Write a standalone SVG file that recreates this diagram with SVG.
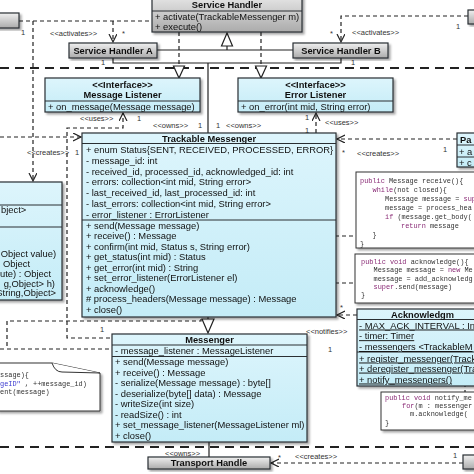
<svg xmlns="http://www.w3.org/2000/svg" width="474" height="474" viewBox="0 0 474 474">
<defs>
<linearGradient id="gray" x1="0" y1="0" x2="0" y2="1"><stop offset="0" stop-color="#f0f0f0"/><stop offset="1" stop-color="#ababab"/></linearGradient>
<linearGradient id="cyan" x1="0" y1="0" x2="0" y2="1"><stop offset="0" stop-color="#ddf5fc"/><stop offset="1" stop-color="#c4ecf7"/></linearGradient>
<filter id="sh" x="-10%" y="-10%" width="130%" height="130%"><feDropShadow dx="2" dy="2" stdDeviation="1" flood-color="#000" flood-opacity="0.35"/></filter>
<marker id="open" markerUnits="userSpaceOnUse" markerWidth="10" markerHeight="9" refX="8" refY="4" orient="auto"><path d="M0,0 L8,4 L0,8" fill="none" stroke="#222" stroke-width="1.2"/></marker>
<style>
.box{stroke:#2a2f33;stroke-width:1.2}
.g{fill:url(#gray)}
.c{fill:url(#cyan)}
.note{fill:#fff;stroke:#333;stroke-width:1}
.sep{stroke:#2a2f33;stroke-width:1}
text{font-family:"Liberation Sans",Arial,sans-serif;fill:#111}
.t{font-size:9.4px}
.b{font-size:9.3px;font-weight:bold}
.l{font-size:7.5px;fill:#333}
.m{font-family:"Liberation Mono","DejaVu Sans Mono",monospace;font-size:6.9px;fill:#333}
.kw{fill:#8a2b76}
.str{fill:#3b3ad0}
.u{text-decoration:underline}
.d{fill:none;stroke:#222;stroke-width:1.2;stroke-dasharray:4 3}
.s{fill:none;stroke:#222;stroke-width:1.2}
.thick{fill:none;stroke:#222;stroke-width:2;stroke-dasharray:9 6}
.ball{fill:#fff;stroke:#222;stroke-width:1}
.tri{fill:#fff;stroke:#222;stroke-width:1.2}
</style>
</defs>
<rect width="474" height="474" fill="#fff"/>

<g id="connectors">
<line class="thick" x1="0" y1="68" x2="474" y2="68"/>
<line class="thick" x1="0" y1="447" x2="474" y2="447"/>
<path class="d" d="M19,21 H152"/>
<path class="d" d="M113,21 V42" marker-end="url(#open)"/>
<path class="d" d="M33,21 V181" marker-end="url(#open)"/>
<path class="d" d="M468,16 H341 V42" marker-end="url(#open)"/>
<path class="s" d="M157,50 H293"/>
<path class="s" d="M227,50 V46"/>
<path class="tri" d="M227,33 L232.5,46 L221.5,46 Z"/>
<path class="s" d="M113,58 V63 H341 V58"/>
<path class="s" d="M208,63 V133"/>
<path class="d" d="M179,32 V66"/>
<path class="tri" d="M173.5,66 L184.5,66 L179,78 Z"/>
<path class="d" d="M261,32 V66"/>
<path class="tri" d="M255.5,66 L266.5,66 L261,78 Z"/>
<path class="d" d="M110,338 H67 V128 H123 V113" marker-end="url(#open)"/>
<path class="d" d="M316,133 V113" marker-end="url(#open)"/>
<path class="d" d="M0,137 H81" marker-end="url(#open)"/>
<path class="d" d="M457,139 H337" marker-end="url(#open)"/>
<path class="d" d="M357,315 H337" marker-end="url(#open)"/>
<path class="d" d="M201,228 V321 H7 V349"/>
<path class="d" d="M0,349 H112"/>
<path class="d" d="M300,236 H356"/>
<path class="d" d="M232,299 H293 V283 H355"/>
<path class="d" d="M465,383 V392"/>
<path class="s" d="M208,317 V319"/>
<path class="tri" d="M202,319 L214,319 L208,333 Z"/>
<path class="s" d="M209,442 V457"/>
<path class="d" d="M463,463 H271" marker-end="url(#open)"/>

<g id="labels">
<text class="l" x="50" y="36">&lt;&lt;activates&gt;&gt;</text>
<text class="l" x="21" y="35">1</text>
<text class="l" x="122" y="36">*</text>
<text class="l" x="352" y="35">&lt;&lt;activates&gt;&gt;</text>
<text class="l" x="456" y="29">1</text>
<text class="l" x="330" y="36">*</text>
<text class="l" x="101" y="65">1</text>
<text class="l" x="351" y="65">1</text>
<text class="l" x="80" y="120.5">&lt;&lt;uses&gt;&gt;</text>
<text class="l" x="137" y="121">1</text>
<text class="l" x="153" y="127.5">&lt;&lt;owns&gt;&gt;</text>
<text class="l" x="198" y="128">1</text>
<text class="l" x="216" y="128">1</text>
<text class="l" x="226" y="127.5">&lt;&lt;owns&gt;&gt;</text>
<text class="l" x="305" y="120">1</text>
<text class="l" x="305" y="133">1</text>
<text class="l" x="325" y="124.5">&lt;&lt;uses&gt;&gt;</text>
<text class="l" x="27" y="154.5">&lt;&lt;creates&gt;&gt;</text>
<text class="l" x="75" y="155">1</text>
<text class="l" x="443" y="152">1</text>
<text class="l" x="342" y="155">*</text>
<text class="l" x="357" y="155.5">&lt;&lt;creates&gt;&gt;</text>
<text class="l" x="340" y="310">*</text>
<text class="l" x="306" y="334">&lt;&lt;notifies&gt;&gt;</text>
<text class="l" x="328" y="352">1</text>
<text class="l" x="100" y="332">1</text>
<text class="l" x="165" y="455.5">&lt;&lt;owns&gt;&gt;</text>
<text class="l" x="278" y="460">*</text>
<text class="l" x="295" y="458.5">&lt;&lt;creates&gt;&gt;</text>
<text class="l" x="453" y="458">1</text>
</g>
<circle class="ball" cx="201" cy="225" r="2.5"/>
<circle class="ball" cx="297" cy="236" r="2.5"/>
<circle class="ball" cx="229" cy="299" r="2.5"/>
<circle class="ball" cx="465" cy="380" r="2.5"/>
</g>

<g id="service-handler" filter="url(#sh)">
<rect class="box g" x="152" y="-10" width="150" height="42"/>
<line class="sep" x1="152" y1="11" x2="302" y2="11"/>
<text class="b" x="227" y="8.3" text-anchor="middle">Service Handler</text>
<text class="t" x="155" y="19.8">+ activate(TrackableMessenger m)</text>
<text class="t" x="155" y="29.8">+ execute()</text>
</g>

<g id="left-top-box" filter="url(#sh)">
<rect class="box g" x="-5" y="13" width="24" height="15"/>
</g>
<g id="right-top-box" filter="url(#sh)">
<rect class="box g" x="468" y="10" width="14" height="14"/>
</g>

<g id="service-handler-a" filter="url(#sh)">
<rect class="box g" x="69" y="43" width="88" height="15"/>
<text class="b" x="113" y="53.8" text-anchor="middle">Service Handler A</text>
</g>
<g id="service-handler-b" filter="url(#sh)">
<rect class="box g" x="293" y="43" width="95" height="15"/>
<text class="b" x="341" y="53.8" text-anchor="middle">Service Handler B</text>
</g>

<g id="message-listener" filter="url(#sh)">
<rect class="box c" x="45" y="78" width="155" height="34"/>
<line class="sep" x1="45" y1="101" x2="200" y2="101"/>
<text class="b" x="122.5" y="88.3" text-anchor="middle">&lt;&lt;Interface&gt;&gt;</text>
<text class="b" x="122.5" y="98.3" text-anchor="middle">Message Listener</text>
<text class="t" x="48" y="109.8">+ on_message(Message message)</text>
</g>

<g id="error-listener" filter="url(#sh)">
<rect class="box c" x="238" y="78" width="155" height="34"/>
<line class="sep" x1="238" y1="101" x2="393" y2="101"/>
<text class="b" x="315.5" y="88.3" text-anchor="middle">&lt;&lt;Interface&gt;&gt;</text>
<text class="b" x="315.5" y="98.3" text-anchor="middle">Error Listener</text>
<text class="t" x="241" y="109.8">+ on_error(int mid, String error)</text>
</g>

<g id="left-class" filter="url(#sh)">
<rect class="box c" x="-5" y="182" width="67" height="118"/>
<line class="sep" x1="-5" y1="205" x2="62" y2="205"/>
<line class="sep" x1="-5" y1="227" x2="62" y2="227"/>
<text class="t" x="1" y="213.3">bject&gt;</text>
<text class="t" x="56" y="257.3" text-anchor="end">Object value)</text>
<text class="t" x="30" y="267.3" text-anchor="end">Object</text>
<text class="t" x="51" y="277.3" text-anchor="end">ute) : Object</text>
<text class="t" x="55" y="286.8" text-anchor="end">g,Object&gt; h)</text>
<text class="t" x="56" y="296.3" text-anchor="end">String,Object&gt;</text>
</g>

<g id="trackable-messenger" filter="url(#sh)">
<rect class="box c" x="82" y="133" width="254" height="184"/>
<line class="sep" x1="82" y1="143.5" x2="336" y2="143.5"/>
<line class="sep" x1="82" y1="220" x2="336" y2="220"/>
<text class="b" x="209" y="141.5" text-anchor="middle">Trackable Messenger</text>
<text class="t" x="86" y="153.3">+ enum Status{SENT, RECEIVED, PROCESSED, ERROR}</text>
<text class="t" x="86" y="164">- message_id: int</text>
<text class="t" x="86" y="174.7">- received_id, processed_id, acknowledged_id: int</text>
<text class="t" x="86" y="185.4">- errors: collection&lt;int mid, String error&gt;</text>
<text class="t" x="86" y="196.1">- last_received_id, last_processed_id: int</text>
<text class="t" x="86" y="206.8">- last_errors: collection&lt;int mid, String error&gt;</text>
<text class="t" x="86" y="217.5">- error_listener : ErrorListener</text>
<text class="t" x="86" y="228.5">+ send(Message message)</text>
<text class="t" x="86" y="239">+ receive() : Message</text>
<text class="t" x="86" y="249.5">+ confirm(int mid, Status s, String error)</text>
<text class="t" x="86" y="260">+ get_status(int mid) : Status</text>
<text class="t" x="86" y="270.5">+ get_error(int mid) : String</text>
<text class="t" x="86" y="281">+ set_error_listener(ErrorListener el)</text>
<text class="t" x="86" y="291.5">+ acknowledge()</text>
<text class="t" x="86" y="302"># process_headers(Message message) : Message</text>
<text class="t" x="86" y="312.5">+ close()</text>
</g>

<g id="pa-class" filter="url(#sh)">
<rect class="box c" x="457" y="133" width="24" height="34"/>
<line class="sep" x1="457" y1="145" x2="481" y2="145"/>
<line class="sep" x1="457" y1="157" x2="481" y2="157"/>
<text class="b" x="460" y="143">Pa</text>
<text class="t" x="459" y="155">+ a</text>
<text class="t" x="459" y="165.5">+ c</text>
</g>

<g id="note-receive" filter="url(#sh)">
<rect class="note" x="356" y="172" width="125" height="76"/>
<text class="m" x="360" y="183.4"><tspan class="kw">public</tspan> Message receive(){</text>
<text class="m" x="372.5" y="192.3"><tspan class="kw">while</tspan>(not closed){</text>
<text class="m" x="385" y="201.2">Messsage message = <tspan class="kw">sup</tspan></text>
<text class="m" x="385" y="210.1">message = process_hea</text>
<text class="m" x="385" y="219"><tspan class="kw">if</tspan> (message.get_body(</text>
<text class="m" x="401" y="227.9"><tspan class="kw">return</tspan> message</text>
<text class="m" x="372.5" y="236.8">}</text>
<text class="m" x="360" y="245.5">}</text>
</g>

<g id="note-acknowledge" filter="url(#sh)">
<rect class="note" x="355" y="254" width="126" height="49"/>
<text class="m" x="361" y="264"><tspan class="kw">public</tspan> <tspan class="kw">void</tspan> acknowledge(){</text>
<text class="m" x="373.5" y="272.3">Message message = <tspan class="kw">new</tspan> Me</text>
<text class="m" x="373.5" y="280.6">message = add_acknowledg</text>
<text class="m" x="373.5" y="289"><tspan class="kw">super</tspan>.send(message)</text>
<text class="m" x="361" y="297.3">}</text>
</g>

<g id="acknowledgment" filter="url(#sh)">
<rect class="box c" x="357" y="309" width="124" height="77"/>
<line class="sep" x1="357" y1="319.5" x2="481" y2="319.5"/>
<line class="sep" x1="357" y1="352" x2="481" y2="352"/>
<text class="b" x="391" y="317.5">Acknowledgm</text>
<text class="t u" x="359" y="328.5">- MAX_ACK_INTERVAL : In</text>
<text class="t u" x="359" y="339.2">- timer: Timer</text>
<text class="t u" x="359" y="350">- messengers &lt;TrackableM</text>
<text class="t u" x="359" y="361.5">+ register_messenger(Track</text>
<text class="t u" x="359" y="371.6">+ deregister_messenger(Tra</text>
<text class="t u" x="359" y="382.5">+ notify_messengers()</text>
</g>

<g id="note-notify" filter="url(#sh)">
<rect class="note" x="381" y="392" width="100" height="38"/>
<text class="m" x="385" y="399.5"><tspan class="kw">public</tspan> <tspan class="kw">void</tspan> notify_me</text>
<text class="m" x="402" y="408"><tspan class="kw">for</tspan>(m : messenger</text>
<text class="m" x="410" y="416.2">m.acknowledge(</text>
<text class="m" x="385" y="425">}</text>
</g>

<g id="note-send" filter="url(#sh)">
<path class="note" d="M-3,363 H52 L100,373 V411 H-3 Z"/>
<path class="note" d="M52,363 Q55,372 62,372 L100,373"/>
<text class="m" x="0" y="377.2">ssage){</text>
<text class="m" x="0" y="385.5"><tspan class="str">geID"</tspan> , ++message_id)</text>
<text class="m" x="0" y="393.9">ent(message)</text>
</g>

<g id="messenger" filter="url(#sh)">
<rect class="box c" x="112" y="334" width="195" height="108"/>
<line class="sep" x1="112" y1="345" x2="307" y2="345"/>
<line class="sep" x1="112" y1="356.5" x2="307" y2="356.5"/>
<text class="b" x="209.5" y="342.8" text-anchor="middle">Messenger</text>
<text class="t" x="115" y="354.3">- message_listener : MessageListener</text>
<text class="t" x="115" y="365.3">+ send(Message message)</text>
<text class="t" x="115" y="375.8">+ receive() : Message</text>
<text class="t" x="115" y="386.3">- serialize(Message message) : byte[]</text>
<text class="t" x="115" y="396.8">- deserialize(byte[] data) : Message</text>
<text class="t" x="115" y="407.3">- writeSize(int size)</text>
<text class="t" x="115" y="417.8">- readSize() : int</text>
<text class="t" x="115" y="428.3">+ set_message_listener(MessageListener ml)</text>
<text class="t" x="115" y="438.8">+ close()</text>
</g>

<g id="transport-handle" filter="url(#sh)">
<rect class="box g" x="148" y="457" width="122" height="12"/>
<text class="b" x="209" y="466.3" text-anchor="middle">Transport Handle</text>
</g>

<g id="right-bottom-box" filter="url(#sh)">
<rect class="box g" x="463" y="455" width="18" height="14"/>
</g>
</svg>
